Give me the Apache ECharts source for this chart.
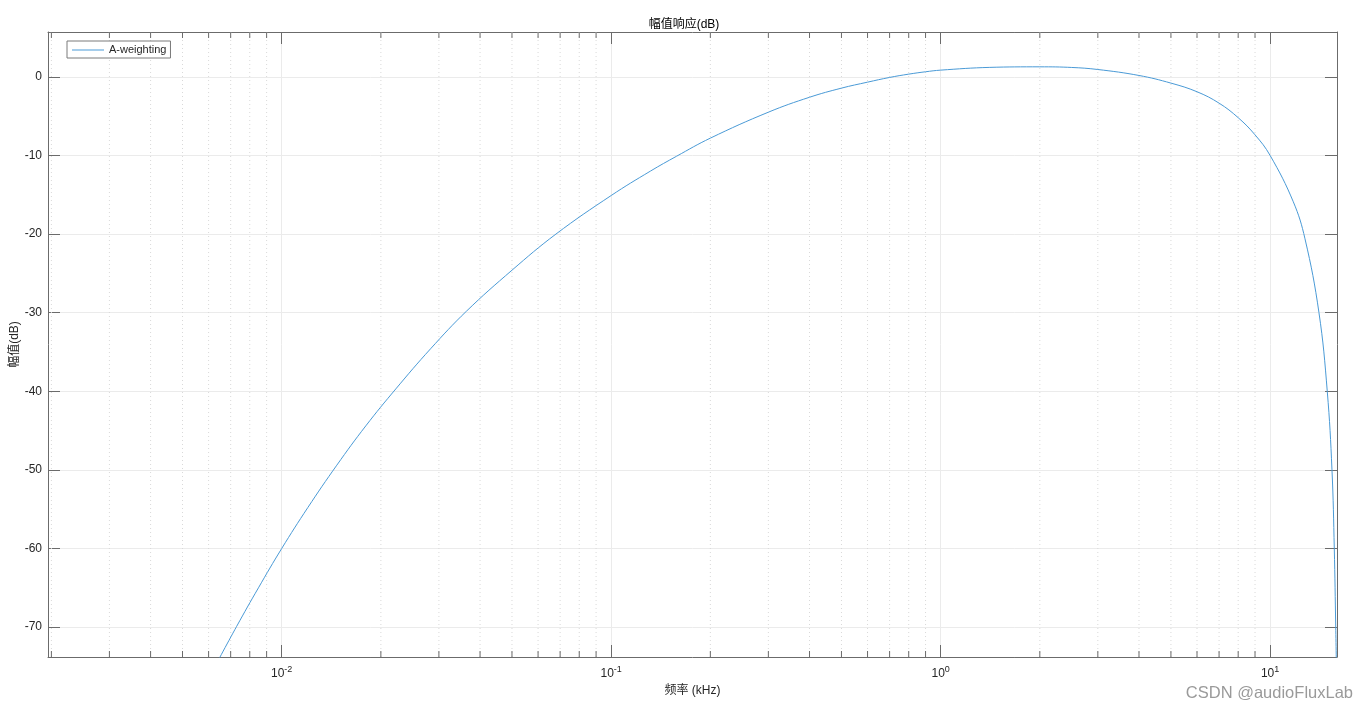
<!DOCTYPE html>
<html>
<head>
<meta charset="utf-8">
<title>幅值响应(dB)</title>
<script src="https://cdn.jsdelivr.net/npm/echarts@6/dist/echarts.min.js"></script>
<style>
    html, body { margin: 0; padding: 0; background: #fff; }
    #main { width: 1368px; height: 706px; }
</style>
</head>
<body>
<div id="main"></div>
<script>
// 频率 (kHz)
var freqKHz = [0.0062, 0.0073, 0.0085, 0.01, 0.012, 0.0147, 0.018, 0.0222, 0.0283, 0.0364,
    0.05, 0.068, 0.1, 0.1315, 0.158, 0.2, 0.3, 0.4, 0.5, 0.6,
    0.7, 0.8, 0.9, 1.0, 1.41, 2.0, 2.5, 3.0, 4.0, 5.0,
    6.0, 7.0, 8.0, 9.0, 10.0, 11.76, 12.76, 14.07, 14.91, 15.41,
    15.66, 15.82, 15.91];
// 幅值 (dB)
var gainDb = [-75.4, -69.9, -65.0, -60, -54.8, -49.4, -44.4, -39.7, -34.6, -29.8,
    -24.6, -20.0, -15.1, -12.0, -10.1, -7.8, -4.5, -2.6, -1.44, -0.68,
    -0.08, 0.34, 0.64, 0.85, 1.2, 1.27, 1.19, 0.93, 0.17, -0.8,
    -1.9, -3.35, -5.2, -7.38, -10, -15.9, -20.6, -30, -40, -50,
    -60, -70, -76];
// 坐标范围
var xMin = 0.001953, xMax = 15.96;
var yMin = -73.8, yMax = 5.7;
// 对数轴的次刻度 (2..9 × 10^n)
var minorMult = [2, 3, 4, 5, 6, 7, 8, 9];
var decades = [0.001, 0.01, 0.1, 1, 10];

var fontFamily = "'Liberation Sans', 'Noto Sans CJK SC', sans-serif";
var axisColor = '#6b6b6b';
var textColor = '#262626';

function buildLine() {
    var arr = [];
    for (var i = 0; i < freqKHz.length; i++) {
        arr.push([freqKHz[i], gainDb[i]]);
    }
    return arr;
}

function buildMinor() {
    var arr = [];
    for (var d = 0; d < decades.length; d++) {
        for (var m = 0; m < minorMult.length; m++) {
            var v = decades[d] * minorMult[m];
            if (v > xMin && v < xMax) {
                arr.push([v, yMin]);
            }
        }
    }
    return arr;
}

// 10^n 标签
function powLabel(val) {
    if (val <= xMin * 1.01 || val >= xMax * 0.99) {
        return '';
    }
    var e = Math.round(Math.log(val) / Math.LN10);
    return '{b|10}{s|' + e + '}';
}

// 次刻度线和点状网格
function renderMinor(params, api) {
    var f = api.value(0);
    var bot = api.coord([f, yMin]);
    var top = api.coord([f, yMax]);
    return {
        type: 'group',
        children: [
            {
                type: 'line',
                shape: { x1: bot[0], y1: bot[1], x2: top[0], y2: top[1] },
                style: { stroke: '#d9d9d9', lineWidth: 1, lineDash: [1, 3] }
            },
            {
                type: 'line',
                shape: { x1: bot[0], y1: bot[1], x2: bot[0], y2: bot[1] - 6 },
                style: { stroke: axisColor, lineWidth: 1 }
            },
            {
                type: 'line',
                shape: { x1: top[0], y1: top[1], x2: top[0], y2: top[1] + 6 },
                style: { stroke: axisColor, lineWidth: 1 }
            }
        ]
    };
}

var chart = echarts.init(document.getElementById('main'));
var option = {
    backgroundColor: '#fff',
    animation: false,
    textStyle: { fontFamily: fontFamily },
    title: [
        {
            text: '幅值响应(dB)',
            left: 'center',
            top: 14,
            textStyle: { fontSize: 12, fontWeight: 'normal', color: '#000', fontFamily: fontFamily }
        },
        {
            text: 'CSDN @audioFluxLab',
            right: 10,
            top: 680,
            textStyle: { fontSize: 16.5, fontWeight: 'normal', color: '#9a9a9a', fontFamily: fontFamily }
        }
    ],
    legend: {
        data: ['A-weighting'],
        left: 67,
        top: 41,
        orient: 'vertical',
        icon: 'rect',
        padding: [3, 4, 2, 5],
        itemWidth: 32,
        itemHeight: 1,
        itemGap: 4,
        borderColor: '#7a7a7a',
        borderWidth: 1,
        backgroundColor: '#fff',
        textStyle: { fontSize: 11, color: textColor, fontFamily: fontFamily, lineHeight: 12 }
    },
    grid: {
        left: 48,
        right: 31,
        top: 32,
        bottom: 49,
        containLabel: false,
        outerBoundsMode: 'none'
    },
    xAxis: [
        {
            type: 'log',
            logBase: 10,
            min: xMin,
            max: xMax,
            name: '频率 (kHz)',
            nameLocation: 'middle',
            nameGap: 28,
            nameMoveOverlap: false,
            nameTextStyle: { fontSize: 12, color: textColor, fontFamily: fontFamily },
            axisLine: { show: true, onZero: false, lineStyle: { color: axisColor, width: 1 } },
            axisTick: { show: true, inside: true, length: 12, lineStyle: { color: axisColor } },
            axisLabel: {
                show: true,
                margin: 8,
                showMinLabel: false,
                showMaxLabel: false,
                formatter: powLabel,
                rich: {
                    b: { fontSize: 12, color: textColor, fontFamily: fontFamily, lineHeight: 18 },
                    s: { fontSize: 9, color: textColor, fontFamily: fontFamily, verticalAlign: 'top', lineHeight: 10 }
                }
            },
            splitLine: { show: true, lineStyle: { color: '#ebebeb', width: 1 } }
        },
        {
            type: 'log',
            logBase: 10,
            position: 'top',
            min: xMin,
            max: xMax,
            axisLine: { show: true, onZero: false, lineStyle: { color: axisColor, width: 1 } },
            axisTick: { show: true, inside: true, length: 12, lineStyle: { color: axisColor } },
            axisLabel: { show: false },
            splitLine: { show: false }
        }
    ],
    yAxis: [
        {
            type: 'value',
            min: yMin,
            max: yMax,
            splitNumber: 8,
            name: '幅值(dB)',
            nameLocation: 'middle',
            nameGap: 27,
            nameMoveOverlap: false,
            nameTextStyle: { fontSize: 12, color: textColor, fontFamily: fontFamily },
            axisLine: { show: true, onZero: false, lineStyle: { color: axisColor, width: 1 } },
            axisTick: { show: true, inside: true, length: 12, lineStyle: { color: axisColor } },
            axisLabel: {
                margin: 6,
                fontSize: 12,
                color: textColor,
                fontFamily: fontFamily,
                showMinLabel: false,
                showMaxLabel: false
            },
            splitLine: { show: true, lineStyle: { color: '#ebebeb', width: 1 } }
        },
        {
            type: 'value',
            position: 'right',
            min: yMin,
            max: yMax,
            splitNumber: 8,
            axisLine: { show: true, onZero: false, lineStyle: { color: axisColor, width: 1 } },
            axisTick: { show: true, inside: true, length: 12, lineStyle: { color: axisColor } },
            axisLabel: { show: false },
            splitLine: { show: false }
        }
    ],
    series: [
        {
            type: 'custom',
            name: 'minor',
            xAxisIndex: 0,
            yAxisIndex: 0,
            renderItem: renderMinor,
            data: buildMinor(),
            encode: { x: 0, y: 1 },
            silent: true,
            clip: false,
            z: 1
        },
        {
            type: 'line',
            name: 'A-weighting',
            xAxisIndex: 0,
            yAxisIndex: 0,
            data: buildLine(),
            symbol: 'none',
            smooth: 0.4,
            clip: true,
            lineStyle: { color: '#4a9ad6', width: 1 },
            itemStyle: { color: '#4a9ad6' },
            z: 3
        }
    ]
};
chart.setOption(option);
</script>
</body>
</html>
